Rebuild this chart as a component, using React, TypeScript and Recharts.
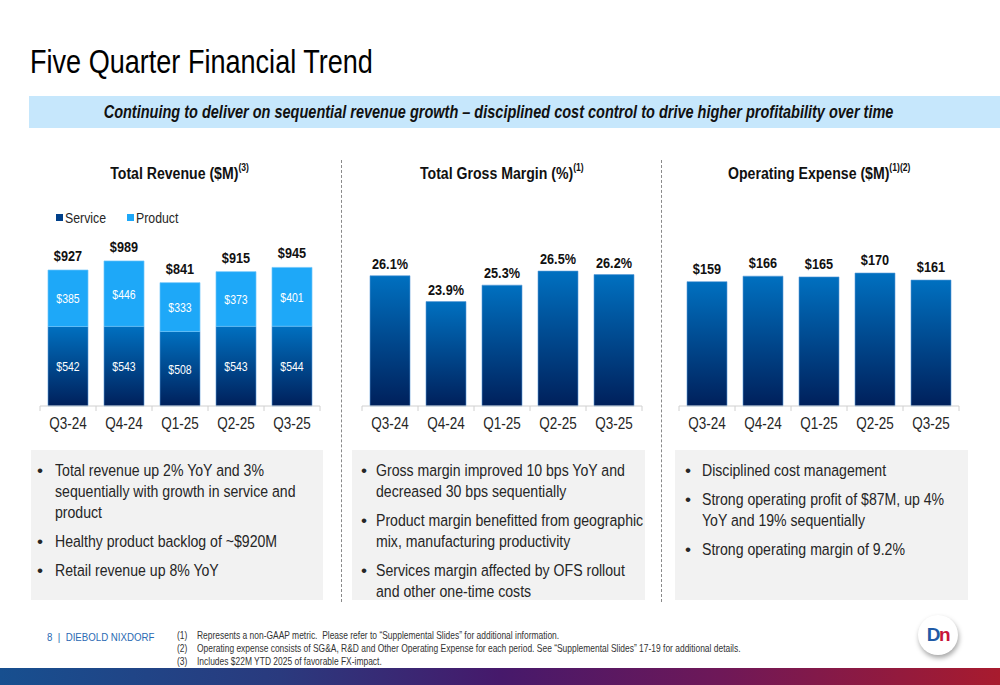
import React from 'react';
import { BarChart, Bar, XAxis, YAxis, LabelList } from 'recharts';

// ---- data ----
const quarters = ['Q3-24', 'Q4-24', 'Q1-25', 'Q2-25', 'Q3-25'];
const revenueSeries = ['Service', 'Product'];
const serviceRevenue = [542, 543, 508, 543, 544];
const productRevenue = [385, 446, 333, 373, 401];
const totalRevenue = [927, 989, 841, 915, 945];
const grossMarginPct = [26.1, 23.9, 25.3, 26.5, 26.2];
const operatingExpense = [159, 166, 165, 170, 161];

const revenueBullets = [
  'Total revenue up 2% YoY and 3%\nsequentially with growth in service and\nproduct',
  'Healthy product backlog of ~$920M',
  'Retail revenue up 8% YoY',
];
const marginBullets = [
  'Gross margin improved 10 bps YoY and\ndecreased 30 bps sequentially',
  'Product margin benefitted from geographic\nmix, manufacturing productivity',
  'Services margin affected by OFS rollout\nand other one-time costs',
];
const opexBullets = [
  'Disciplined cost management',
  'Strong operating profit of $87M, up 4%\nYoY and 19% sequentially',
  'Strong operating margin of 9.2%',
];
const footnotes = [
  'Represents a non-GAAP metric.  Please refer to \u201cSupplemental Slides\u201d for additional information.',
  'Operating expense consists of SG&A, R&D and Other Operating Expense for each period. See \u201cSupplemental Slides\u201d 17-19 for additional details.',
  'Includes $22M YTD 2025 of favorable FX-impact.',
];

const revenueData = quarters.map((q, i) => ({
  quarter: q,
  service: serviceRevenue[i],
  product: productRevenue[i],
  total: totalRevenue[i],
}));
const marginData = quarters.map((q, i) => ({ quarter: q, margin: grossMarginPct[i] }));
const opexData = quarters.map((q, i) => ({ quarter: q, opex: operatingExpense[i] }));

// ---- styling ----
// Liberation Sans horizontally condensed to the proportions of a narrow grotesque
const FONT = "'Liberation Sans', Arial, sans-serif";
const K = 0.82;
const NAVY = '#00205b';
const MID_BLUE = '#0070c0';
const LIGHT_BLUE = '#1ea8f8';

const CHART_W = 300;
const CHART_H = 240;
const MARGIN = { top: 30, right: 10, left: 10, bottom: 4 };
const BAND = (CHART_W - MARGIN.left - MARGIN.right) / quarters.length;

const squeeze = (cx: number) => `matrix(${K},0,0,1,${cx * (1 - K)},0)`;

const Narrow = ({
  children,
  origin = 'left',
  style,
}: {
  children: React.ReactNode;
  origin?: string;
  style?: React.CSSProperties;
}) => (
  <span
    style={{
      display: 'inline-block',
      transform: `scaleX(${K})`,
      transformOrigin: origin,
      whiteSpace: 'pre',
      ...style,
    }}
  >
    {children}
  </span>
);

const QuarterTick = (props: any) => {
  const { x, y, payload, index } = props;
  const half = BAND / 2;
  return (
    <g>
      <line x1={x - half} x2={x - half} y1={y} y2={y + 5} stroke="#d0d0d0" />
      {index === quarters.length - 1 && (
        <line x1={x + half} x2={x + half} y1={y} y2={y + 5} stroke="#d0d0d0" />
      )}
      <text
        x={x}
        y={y + 17}
        transform={squeeze(x)}
        textAnchor="middle"
        dominantBaseline="central"
        fontSize={16.5}
        fill="#262626"
        fontFamily={FONT}
      >
        {payload.value}
      </text>
    </g>
  );
};

const boxOf = (p: any) => {
  const vb = p.viewBox && typeof p.viewBox.x === 'number' ? p.viewBox : p;
  return { x: Number(vb.x), y: Number(vb.y), width: Number(vb.width), height: Number(vb.height) };
};

const makeTopLabel = (gap: number, fmt: (v: any) => string) => (p: any) => {
  const b = boxOf(p);
  const cx = b.x + b.width / 2;
  return (
    <text
      x={cx}
      y={b.y - gap}
      transform={squeeze(cx)}
      textAnchor="middle"
      fontSize={15.5}
      fontWeight={700}
      fill="#111"
      fontFamily={FONT}
    >
      {fmt(p.value)}
    </text>
  );
};

const makeInnerLabel = (fmt: (v: any) => string) => (p: any) => {
  const b = boxOf(p);
  const cx = b.x + b.width / 2;
  return (
    <text
      x={cx}
      y={b.y + b.height / 2}
      transform={squeeze(cx)}
      textAnchor="middle"
      dominantBaseline="central"
      fontSize={12.8}
      fill="#ffffff"
      fontFamily={FONT}
    >
      {fmt(p.value)}
    </text>
  );
};

const fmtDollar = (v: any) => `$${v}`;
const fmtPct = (v: any) => `${Number(v).toFixed(1)}%`;

const Gradient = ({ id }: { id: string }) => (
  <defs>
    <linearGradient id={id} x1="0" y1="0" x2="0" y2="1">
      <stop offset="0%" stopColor={MID_BLUE} />
      <stop offset="100%" stopColor={NAVY} />
    </linearGradient>
  </defs>
);

const xAxis = (
  <XAxis
    dataKey="quarter"
    axisLine={{ stroke: '#d0d0d0' }}
    tickLine={false}
    tickSize={0}
    tickMargin={0}
    height={30}
    interval={0}
    tick={<QuarterTick />}
  />
);

const ChartTitle = ({ left, text, note }: { left: number; text: string; note: string }) => (
  <div
    style={{
      position: 'absolute',
      left,
      top: 162,
      width: CHART_W,
      textAlign: 'center',
      fontSize: 17.2,
      fontWeight: 700,
      color: '#111',
      lineHeight: '22px',
    }}
  >
    <Narrow origin="center">
      {text}
      <sup style={{ fontSize: 10.5, lineHeight: 0, position: 'relative', top: -1 }}>{note}</sup>
    </Narrow>
  </div>
);

const Divider = ({ left }: { left: number }) => (
  <div
    style={{
      position: 'absolute',
      left,
      top: 160,
      width: 0,
      height: 442,
      borderLeft: '1px dashed #8a8a8a',
    }}
  />
);

const BulletBox = ({
  left,
  width,
  items,
  bulletX,
  textX,
}: {
  left: number;
  width: number;
  items: string[];
  bulletX: number;
  textX: number;
}) => (
  <div
    style={{
      position: 'absolute',
      left,
      top: 450,
      width,
      height: 150,
      background: '#f2f2f2',
      boxSizing: 'border-box',
      paddingTop: 10,
    }}
  >
    {items.map((t, i) => (
      <div
        key={i}
        style={{
          position: 'relative',
          marginBottom: 8,
          fontSize: 17.2,
          lineHeight: '21px',
          color: '#262626',
        }}
      >
        <span style={{ position: 'absolute', left: bulletX, top: 0 }}>{'\u2022'}</span>
        {t.split('\n').map((line, j) => (
          <div key={j} style={{ paddingLeft: textX, height: 21 }}>
            <Narrow>{line}</Narrow>
          </div>
        ))}
      </div>
    ))}
  </div>
);

export default function App() {
  return (
    <div
      style={{
        position: 'absolute',
        left: 0,
        top: 0,
        width: 1000,
        height: 685,
        overflow: 'hidden',
        background: '#ffffff',
        fontFamily: FONT,
        color: '#1a1a1a',
      }}
    >
      {/* heading */}
      <div
        style={{
          position: 'absolute',
          left: 30,
          top: 42,
          fontSize: 33,
          lineHeight: '40px',
          color: '#000',
        }}
      >
        <Narrow>Five Quarter Financial Trend</Narrow>
      </div>
      <div
        style={{
          position: 'absolute',
          left: 29,
          top: 96,
          width: 971,
          height: 32,
          background: '#c6e7fc',
        }}
      />
      <div
        style={{
          position: 'absolute',
          left: 0,
          top: 96,
          width: 997,
          height: 32,
          lineHeight: '32px',
          textAlign: 'center',
          fontSize: 17.7,
          fontWeight: 700,
          fontStyle: 'italic',
          color: '#111',
        }}
      >
        <Narrow origin="center">
          {'Continuing to deliver on sequential revenue growth \u2013 disciplined cost control to drive higher profitability over time'}
        </Narrow>
      </div>

      <Divider left={341} />
      <Divider left={661} />

      {/* Total revenue */}
      <ChartTitle left={30} text="Total Revenue ($M)" note="(3)" />
      {revenueSeries.map((s, i) => (
        <div
          key={s}
          style={{
            position: 'absolute',
            left: 56 + i * 71,
            top: 208,
            height: 19,
            display: 'flex',
            alignItems: 'center',
            fontSize: 15,
            color: '#262626',
          }}
        >
          <span
            style={{
              display: 'inline-block',
              width: 7,
              height: 7,
              marginRight: 2,
              background: i === 0 ? '#00408a' : LIGHT_BLUE,
            }}
          />
          <Narrow>{s}</Narrow>
        </div>
      ))}
      <div style={{ position: 'absolute', left: 30, top: 200 }}>
        <BarChart width={CHART_W} height={CHART_H} data={revenueData} margin={MARGIN} barSize={40}>
          <Gradient id="serviceGrad" />
          {xAxis}
          <YAxis hide domain={[0, 1200]} />
          <Bar
            dataKey="service"
            stackId="rev"
            fill="url(#serviceGrad)"
            stroke="#5a9bd8"
            strokeOpacity={0.6}
            isAnimationActive={false}
          >
            <LabelList dataKey="service" content={makeInnerLabel(fmtDollar)} />
          </Bar>
          <Bar
            dataKey="product"
            stackId="rev"
            fill={LIGHT_BLUE}
            stroke="#6cc4fb"
            strokeOpacity={0.7}
            isAnimationActive={false}
          >
            <LabelList dataKey="product" content={makeInnerLabel(fmtDollar)} />
            <LabelList dataKey="total" content={makeTopLabel(9, fmtDollar)} />
          </Bar>
        </BarChart>
      </div>

      {/* Gross margin */}
      <ChartTitle left={352} text="Total Gross Margin (%)" note="(1)" />
      <div style={{ position: 'absolute', left: 352, top: 200 }}>
        <BarChart width={CHART_W} height={CHART_H} data={marginData} margin={MARGIN} barSize={40}>
          <Gradient id="marginGrad" />
          {xAxis}
          <YAxis hide domain={[15, 30]} />
          <Bar
            dataKey="margin"
            fill="url(#marginGrad)"
            stroke="#5a9bd8"
            strokeOpacity={0.6}
            isAnimationActive={false}
          >
            <LabelList dataKey="margin" content={makeTopLabel(7, fmtPct)} />
          </Bar>
        </BarChart>
      </div>

      {/* Operating expense */}
      <ChartTitle left={669} text="Operating Expense ($M)" note="(1)(2)" />
      <div style={{ position: 'absolute', left: 669, top: 200 }}>
        <BarChart width={CHART_W} height={CHART_H} data={opexData} margin={MARGIN} barSize={40}>
          <Gradient id="opexGrad" />
          {xAxis}
          <YAxis hide domain={[0, 225]} />
          <Bar
            dataKey="opex"
            fill="url(#opexGrad)"
            stroke="#5a9bd8"
            strokeOpacity={0.6}
            isAnimationActive={false}
          >
            <LabelList dataKey="opex" content={makeTopLabel(8, fmtDollar)} />
          </Bar>
        </BarChart>
      </div>

      {/* commentary */}
      <BulletBox left={31} width={292} items={revenueBullets} bulletX={6} textX={24} />
      <BulletBox left={352} width={293} items={marginBullets} bulletX={9} textX={24} />
      <BulletBox left={675} width={293} items={opexBullets} bulletX={10} textX={27} />

      {/* footer */}
      <div
        style={{
          position: 'absolute',
          left: 47,
          top: 630,
          fontSize: 11.8,
          lineHeight: '14px',
          color: '#2a6ab3',
        }}
      >
        <Narrow>{'8  |  DIEBOLD NIXDORF'}</Narrow>
      </div>
      <div style={{ position: 'absolute', left: 177, top: 630, fontSize: 10.3, color: '#333' }}>
        {footnotes.map((f, i) => (
          <div key={i} style={{ position: 'relative', height: 12.8, lineHeight: '12.8px' }}>
            <Narrow style={{ position: 'absolute', left: 0 }}>{`(${i + 1})`}</Narrow>
            <Narrow style={{ position: 'absolute', left: 20 }}>{f}</Narrow>
          </div>
        ))}
      </div>
      <div
        style={{
          position: 'absolute',
          left: 918,
          top: 615,
          width: 40,
          height: 40,
          borderRadius: '50%',
          background: '#fff',
          boxShadow: '1px 3px 5px rgba(0,0,0,0.35)',
          display: 'flex',
          alignItems: 'center',
          justifyContent: 'center',
          fontWeight: 700,
          fontSize: 19,
          letterSpacing: -1.5,
        }}
      >
        <span style={{ color: '#1f5aa6' }}>D</span>
        <span style={{ color: '#c8143a' }}>n</span>
      </div>
      <div
        style={{
          position: 'absolute',
          left: 0,
          top: 668,
          width: 1000,
          height: 17,
          background:
            'linear-gradient(90deg, #174f8f 0%, #2a3a7e 28%, #46196b 50%, #6e1858 72%, #a81b2e 100%)',
        }}
      />
    </div>
  );
}
